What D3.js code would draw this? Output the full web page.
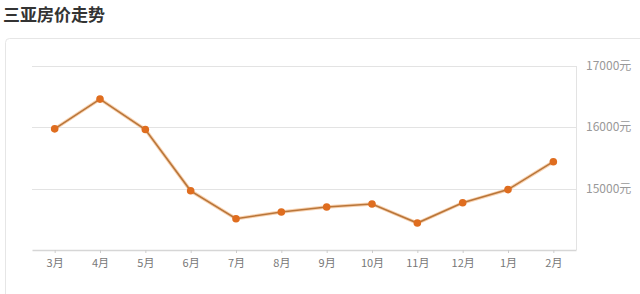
<!DOCTYPE html>
<html>
<head>
<meta charset="utf-8">
<script src="https://cdn.jsdelivr.net/npm/d3@7"></script>
<style>
  body { margin: 0; background: #fff; }
  svg { display: block; font-family: "Noto Sans CJK SC", "Open Sans", sans-serif; }
</style>
</head>
<body>
<div id="chart"></div>
<script>
// chart data
const title = "三亚房价走势";
const months = ["3月", "4月", "5月", "6月", "7月", "8月", "9月", "10月", "11月", "12月", "1月", "2月"];
const prices = [15975, 16460, 15965, 14965, 14510, 14620, 14700, 14750, 14440, 14770, 14985, 15440];
const yTicks = [15000, 16000, 17000];

const width = 640;
const height = 294;
const margin = { top: 66, right: 64, bottom: 44, left: 32 };

const svg = d3.select("#chart")
    .append("svg")
    .attr("width", width)
    .attr("height", height);

// title
svg.append("text")
    .attr("x", 3)
    .attr("y", 21)
    .attr("font-size", 17)
    .attr("font-weight", "bold")
    .attr("fill", "#333")
    .text(title);

// card frame
svg.append("rect")
    .attr("x", 5.5)
    .attr("y", 38.5)
    .attr("width", 650)
    .attr("height", 280)
    .attr("rx", 4)
    .attr("fill", "none")
    .attr("stroke", "#e6e6e6");

const x = d3.scalePoint()
    .domain(months)
    .range([margin.left, width - margin.right])
    .padding(0.5);

const y = d3.scaleLinear()
    .domain([14000, 17000])
    .range([height - margin.bottom, margin.top]);

// horizontal grid lines
svg.append("g")
    .selectAll("line")
    .data(yTicks)
    .enter()
    .append("line")
    .attr("x1", margin.left)
    .attr("x2", width - margin.right)
    .attr("y1", d => Math.round(y(d)) + 0.5)
    .attr("y2", d => Math.round(y(d)) + 0.5)
    .attr("stroke", "#e3e3e3");

// right border of the plot
svg.append("line")
    .attr("x1", width - margin.right + 0.5)
    .attr("x2", width - margin.right + 0.5)
    .attr("y1", y(17000))
    .attr("y2", y(14000))
    .attr("stroke", "#e3e3e3");

// y labels on the right
svg.append("g")
    .selectAll("text")
    .data(yTicks)
    .enter()
    .append("text")
    .attr("x", width - margin.right + 10)
    .attr("y", d => y(d) + 4)
    .attr("font-size", 12)
    .attr("fill", "#999")
    .text(d => d + "元");

// bottom axis
const xAxis = svg.append("g")
    .attr("transform", `translate(0,${height - margin.bottom})`)
    .call(d3.axisBottom(x).tickSize(3).tickSizeOuter(0).tickPadding(6));
xAxis.select(".domain").attr("stroke", "#d6d6d6").attr("stroke-width", 1.5);
xAxis.selectAll(".tick line").attr("stroke", "#ccc");
xAxis.selectAll(".tick text")
    .attr("font-size", 11)
    .attr("fill", "#777")
    .style("font-family", "\"Noto Sans CJK SC\", sans-serif");

// line
const line = d3.line()
    .x((d, i) => x(months[i]))
    .y(d => y(d));

svg.append("path")
    .datum(prices)
    .attr("fill", "none")
    .attr("stroke", "#f3b27a")
    .attr("stroke-width", 3.5)
    .attr("stroke-opacity", 0.6)
    .attr("d", line);

svg.append("path")
    .datum(prices)
    .attr("fill", "none")
    .attr("stroke", "#b9763a")
    .attr("stroke-width", 1.6)
    .attr("d", line);

// markers
svg.append("g")
    .selectAll("circle")
    .data(prices)
    .enter()
    .append("circle")
    .attr("cx", (d, i) => x(months[i]))
    .attr("cy", d => y(d))
    .attr("r", 3.8)
    .attr("fill", "#df6d1f");
</script>
</body>
</html>
